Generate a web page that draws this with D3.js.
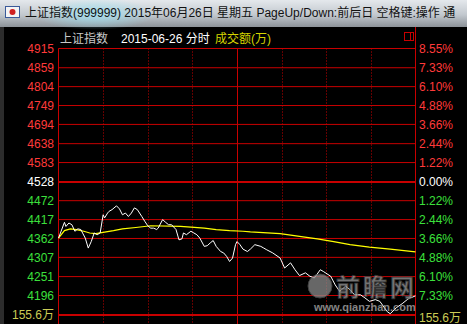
<!DOCTYPE html>
<html lang="zh">
<head>
<meta charset="UTF-8">
<title>上证指数 分时</title>
<script src="https://d3js.org/d3.v7.min.js"></script>
<style>
    body { margin: 0; background: #000; }
    svg { display: block; }
    text { font-family: "Liberation Sans", "Noto Sans CJK SC", sans-serif; font-size: 12px; }
</style>
</head>
<body>
<svg id="chart"></svg>
<script>
// ---- data ----
const leftTicks = ["4915", "4859", "4804", "4749", "4694", "4638", "4583", "4528",
                   "4472", "4417", "4362", "4307", "4251", "4196"];
const rightTicks = ["8.55%", "7.33%", "6.10%", "4.88%", "3.66%", "2.44%", "1.22%", "0.00%",
                    "1.22%", "2.44%", "3.66%", "4.88%", "6.10%", "7.33%"];
const volumeLabel = "155.6万";

const priceMin = [0, 4, 5, 7, 9, 11, 13, 15, 18, 20, 22, 24, 26, 28, 30, 31, 33, 34, 36, 39,
    41, 43, 45, 47, 49, 51, 53, 56, 58, 60, 62, 64, 66, 67, 70, 72, 74, 76, 79, 81,
    83, 84, 86, 89, 91, 93, 95, 98, 100, 102, 104, 106, 109, 111, 113, 115, 117, 119, 120, 122,
    124, 127, 129, 132, 136, 138, 140, 144, 149, 152, 156, 159, 162, 166, 169, 172, 176, 178, 183, 186,
    189, 193, 196, 199, 203, 206, 209, 213, 216, 221, 223, 227, 231, 235, 240];
const priceVal = [4363, 4409, 4397, 4407, 4402, 4383, 4390, 4388, 4363, 4334, 4353, 4378, 4373, 4378, 4431, 4422, 4436, 4441, 4446, 4457,
    4448, 4431, 4436, 4426, 4436, 4451, 4446, 4426, 4412, 4399, 4392, 4392, 4388, 4392, 4417, 4409, 4402, 4402, 4388, 4358,
    4361, 4378, 4373, 4383, 4378, 4373, 4363, 4339, 4341, 4349, 4356, 4339, 4324, 4320, 4310, 4295, 4305, 4344, 4353, 4344,
    4331, 4324, 4331, 4344, 4339, 4334, 4329, 4320, 4305, 4276, 4291, 4271, 4254, 4262, 4252, 4247, 4271, 4266, 4252, 4227,
    4208, 4223, 4213, 4198, 4198, 4189, 4179, 4184, 4179, 4149, 4143, 4160, 4172, 4186, 4195];

const avgMin = [0, 4, 8, 12, 17, 21, 25, 30, 37, 43, 52, 62, 82, 89, 98, 106, 115, 124, 129, 149,
    162, 174, 185, 196, 209, 223, 240];
const avgVal = [4363, 4385, 4390, 4388, 4383, 4378, 4376, 4380, 4385, 4390, 4394, 4399, 4397, 4395, 4392, 4388, 4385, 4383, 4381, 4376,
    4368, 4361, 4353, 4344, 4337, 4331, 4323];

// ---- layout ----
const width = 467, height = 324;
const plotLeft = 58.5, plotRight = 415.5, plotTop = 48.5, row = 19;
const grid = "#c80000";

const svg = d3.select("#chart").attr("width", width).attr("height", height);

const x = d3.scaleLinear().domain([0, 240]).range([plotLeft, plotRight]);
const y = d3.scaleLinear()
    .domain([+leftTicks[0], +leftTicks[leftTicks.length - 1]])
    .range([plotTop, plotTop + row * (leftTicks.length - 1)]);
const volY = plotTop + row * leftTicks.length + 0.5;

svg.append("rect").attr("width", width).attr("height", height).attr("fill", "#000");

// window title bar
const defs = svg.append("defs");
const tg = defs.append("linearGradient").attr("id", "tb").attr("x1", 0).attr("y1", 0).attr("x2", 0).attr("y2", 1);
tg.append("stop").attr("offset", "0%").attr("stop-color", "#e4e8ec");
tg.append("stop").attr("offset", "55%").attr("stop-color", "#c2c8ce");
tg.append("stop").attr("offset", "100%").attr("stop-color", "#8c9298");
const glow = defs.append("radialGradient").attr("id", "glow");
glow.append("stop").attr("offset", "0%").attr("stop-color", "#9fe0f0").attr("stop-opacity", 0.9);
glow.append("stop").attr("offset", "100%").attr("stop-color", "#9fe0f0").attr("stop-opacity", 0);

svg.append("rect").attr("width", width).attr("height", 27).attr("fill", "url(#tb)");
svg.append("ellipse").attr("cx", 95).attr("cy", 14).attr("rx", 60).attr("ry", 16).attr("fill", "url(#glow)");
svg.append("rect").attr("x", 5.5).attr("y", 6.5).attr("width", 14).attr("height", 11)
    .attr("fill", "#f4f4f4").attr("stroke", "#3a5a9a");
svg.append("circle").attr("cx", 12.5).attr("cy", 12).attr("r", 3).attr("fill", "#d02020");
svg.append("text").attr("x", 25).attr("y", 17).attr("fill", "#111")
    .text("上证指数(999999) 2015年06月26日 星期五 PageUp/Down:前后日 空格键:操作 通");

svg.append("rect").attr("x", 0).attr("y", 27).attr("width", 4).attr("height", height - 27).attr("fill", "#2c2c2c");

// header
svg.append("text").attr("x", 60).attr("y", 43).attr("fill", "#c8c8c8").text("上证指数");
svg.append("text").attr("x", 121).attr("y", 43).attr("fill", "#ffffff").text("2015-06-26 分时");
svg.append("text").attr("x", 215).attr("y", 43).attr("fill", "#d4d400").text("成交额(万)");

// small icon top right
svg.append("rect").attr("x", 404.5).attr("y", 32.5).attr("width", 9).attr("height", 8)
    .attr("fill", "none").attr("stroke", grid);
svg.append("line").attr("x1", 410.5).attr("x2", 410.5).attr("y1", 32.5).attr("y2", 40.5).attr("stroke", grid);

// horizontal grid
leftTicks.forEach((t, i) => {
    const yy = y(+t);
    const mid = i === 7;
    svg.append("line")
        .attr("x1", plotLeft).attr("x2", plotRight)
        .attr("y1", mid ? yy + 0.5 : yy).attr("y2", mid ? yy + 0.5 : yy)
        .attr("stroke", grid).attr("stroke-width", mid ? 2 : 1);
});
svg.append("line").attr("x1", plotLeft).attr("x2", plotRight).attr("y1", volY).attr("y2", volY)
    .attr("stroke", grid).attr("stroke-width", 2);

// vertical grid
d3.range(1, 8).forEach(k => {
    const xx = Math.round(x(k * 30)) + 0.5;
    svg.append("line").attr("x1", xx).attr("x2", xx).attr("y1", plotTop).attr("y2", height)
        .attr("stroke", grid)
        .attr("stroke-dasharray", k === 4 ? null : "1,2");
});
svg.append("line").attr("x1", plotLeft).attr("x2", plotLeft).attr("y1", plotTop).attr("y2", height).attr("stroke", grid);
svg.append("line").attr("x1", plotRight).attr("x2", plotRight).attr("y1", 27).attr("y2", height).attr("stroke", grid);

// axis labels
const colorFor = i => i < 7 ? "#ff3a3a" : (i === 7 ? "#ffffff" : "#3ce03c");
svg.selectAll(".lt").data(leftTicks).join("text")
    .attr("x", 54).attr("y", d => y(+d)).attr("dy", "0.36em")
    .attr("text-anchor", "end").attr("fill", (d, i) => colorFor(i)).text(d => d);
svg.selectAll(".rt").data(rightTicks).join("text")
    .attr("x", 419).attr("y", (d, i) => y(+leftTicks[i])).attr("dy", "0.36em")
    .attr("fill", (d, i) => colorFor(i)).text(d => d);
svg.append("text").attr("x", 54).attr("y", volY).attr("dy", "0.36em").attr("text-anchor", "end")
    .attr("fill", "#cccc55").text(volumeLabel);
svg.append("text").attr("x", 419).attr("y", volY + 3).attr("dy", "0.36em")
    .attr("fill", "#cccc55").text(volumeLabel);

// lines
const line = d3.line().x(d => x(d[0])).y(d => y(d[1]));
svg.append("path").datum(d3.zip(avgMin, avgVal)).attr("d", line)
    .attr("fill", "none").attr("stroke", "#ffff00").attr("stroke-width", 1.2);
svg.append("path").datum(d3.zip(priceMin, priceVal)).attr("d", line)
    .attr("fill", "none").attr("stroke", "#ffffff").attr("stroke-width", 1);

// watermark (kept inside the plot so it does not sit on the axis labels)
const wm = svg.append("g").attr("opacity", 0.75);
wm.append("circle").attr("cx", 320).attr("cy", 286).attr("r", 12)
    .attr("fill", "#8a8a8a").attr("stroke", "#555");
wm.append("text").attr("x", 336).attr("y", 296).attr("fill", "#9a9a9a").attr("stroke", "#444")
    .attr("stroke-width", 0.8).style("font-size", "24px").style("font-weight", "bold")
    .attr("letter-spacing", 3).text("前瞻网");
wm.append("text").attr("x", 314).attr("y", 311).attr("fill", "#b0b0b0")
    .style("font-size", "11px").style("font-weight", "bold").text("www.qianzhan.com");
</script>
</body>
</html>
